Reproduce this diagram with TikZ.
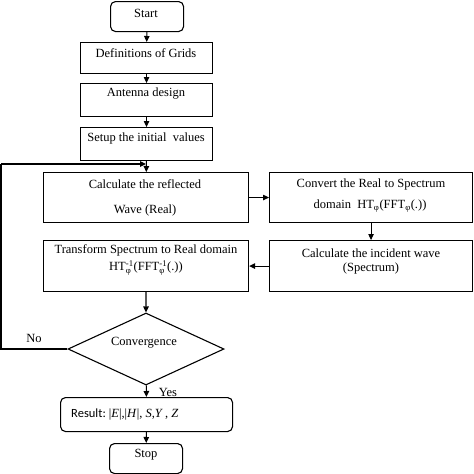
\documentclass[tikz,border=0pt]{standalone}
\usepackage{amsmath}
\usepackage{fontspec}
\setmainfont{Liberation Serif}
\newfontfamily\calib{Carlito}
\usetikzlibrary{shapes.geometric,arrows.meta}
\begin{document}
\begin{tikzpicture}[x=1pt,y=-1pt,
  every node/.style={font=\fontsize{12.5}{14}\selectfont},
  box/.style={draw, line width=1.1pt, rectangle, inner sep=0pt, anchor=north west},
  rbox/.style={box, rounded corners=5pt},
  txt/.style={inner sep=0pt, align=center},
  arr/.style={line width=1.1pt, -{Triangle[length=6pt,width=5.5pt]}},
  ln/.style={line width=1.1pt}]
\useasboundingbox (0,0) rectangle (474,474);
% boxes
\node[rbox, minimum width=73pt, minimum height=30pt] (start) at (110,1) {};
\node[box, minimum width=132pt, minimum height=31pt] (def) at (80,42) {};
\node[box, minimum width=132pt, minimum height=33pt] (ant) at (80,83) {};
\node[box, minimum width=132pt, minimum height=33pt] (set) at (80,127) {};
\node[box, minimum width=205pt, minimum height=50pt] (refl) at (43,172) {};
\node[box, minimum width=203pt, minimum height=50pt] (conv) at (269,172) {};
\node[box, minimum width=203pt, minimum height=51pt] (inc) at (269,240) {};
\node[box, minimum width=205pt, minimum height=51pt] (trans) at (43,240) {};
\node[draw, line width=1.1pt, diamond, inner sep=0pt, aspect=2.17,
      minimum width=156pt, minimum height=72pt] (dia) at (146,349) {};
\node[rbox, minimum width=172pt, minimum height=34pt] (res) at (60,397) {};
\node[rbox, minimum width=73pt, minimum height=30pt] (stop) at (109,443) {};
% texts
\node[txt] (startT) at (146,13) {Start};
\node[txt] (defT) at (146,53) {Definitions of Grids};
\node[txt] (antT) at (146,94) {Antenna design};
\node[txt] (setT) at (146,138) {Setup the initial\ \ values};
\node[txt] (reflT1) at (145,184) {Calculate the reflected};
\node[txt] (reflT2) at (145,210) {Wave (Real)};
\node[txt] (convT1) at (371,184) {Convert the Real to Spectrum};
\node[txt] (convT2) at (370,206) {domain\ \ HT$_{\text{φ}}$(FFT$_{\text{φ}}$(.))};
\node[txt] (incT1) at (371,253) {Calculate the incident wave};
\node[txt] (incT2) at (371,268) {(Spectrum)};
\node[txt] (transT1) at (146,250) {Transform Spectrum to Real domain};
\node[txt] (transT2) at (146,268) {HT$^{\text{-1}}_{\text{φ}}$(FFT$^{\text{-1}}_{\text{φ}}$(.))};
\node[txt] (diaT) at (144,343) {Convergence};
\node[txt, anchor=west] (resT) at (71,415) {{\calib Result:}\ |\textit{E}|,|\textit{H}|, \textit{S},\textit{Y}\,, \textit{Z}};
\node[txt] (stopT) at (146,455) {Stop};
\node[txt] (no) at (34,338) {No};
\node[txt] (yes) at (168,392) {Yes};
% connectors
\coordinate (join) at (146,164);
\coordinate (left) at (1,349);
\draw[arr] (start) -- (def);
\draw[arr] (def) -- (ant);
\draw[arr] (ant) -- (set);
\draw[arr] (set) -- (refl);
\draw[arr] (refl) -- (conv);
\draw[arr] (conv) -- (inc);
\draw[arr] (inc) -- (trans);
\draw[arr] (trans) -- (dia);
\draw[arr] (dia) -- (res);
\draw[arr] (res) -- (stop);
\draw[ln] (dia.west) -- (left) -- (left |- join);
\draw[arr] (left |- join) -- (join);
\end{tikzpicture}
\end{document}
